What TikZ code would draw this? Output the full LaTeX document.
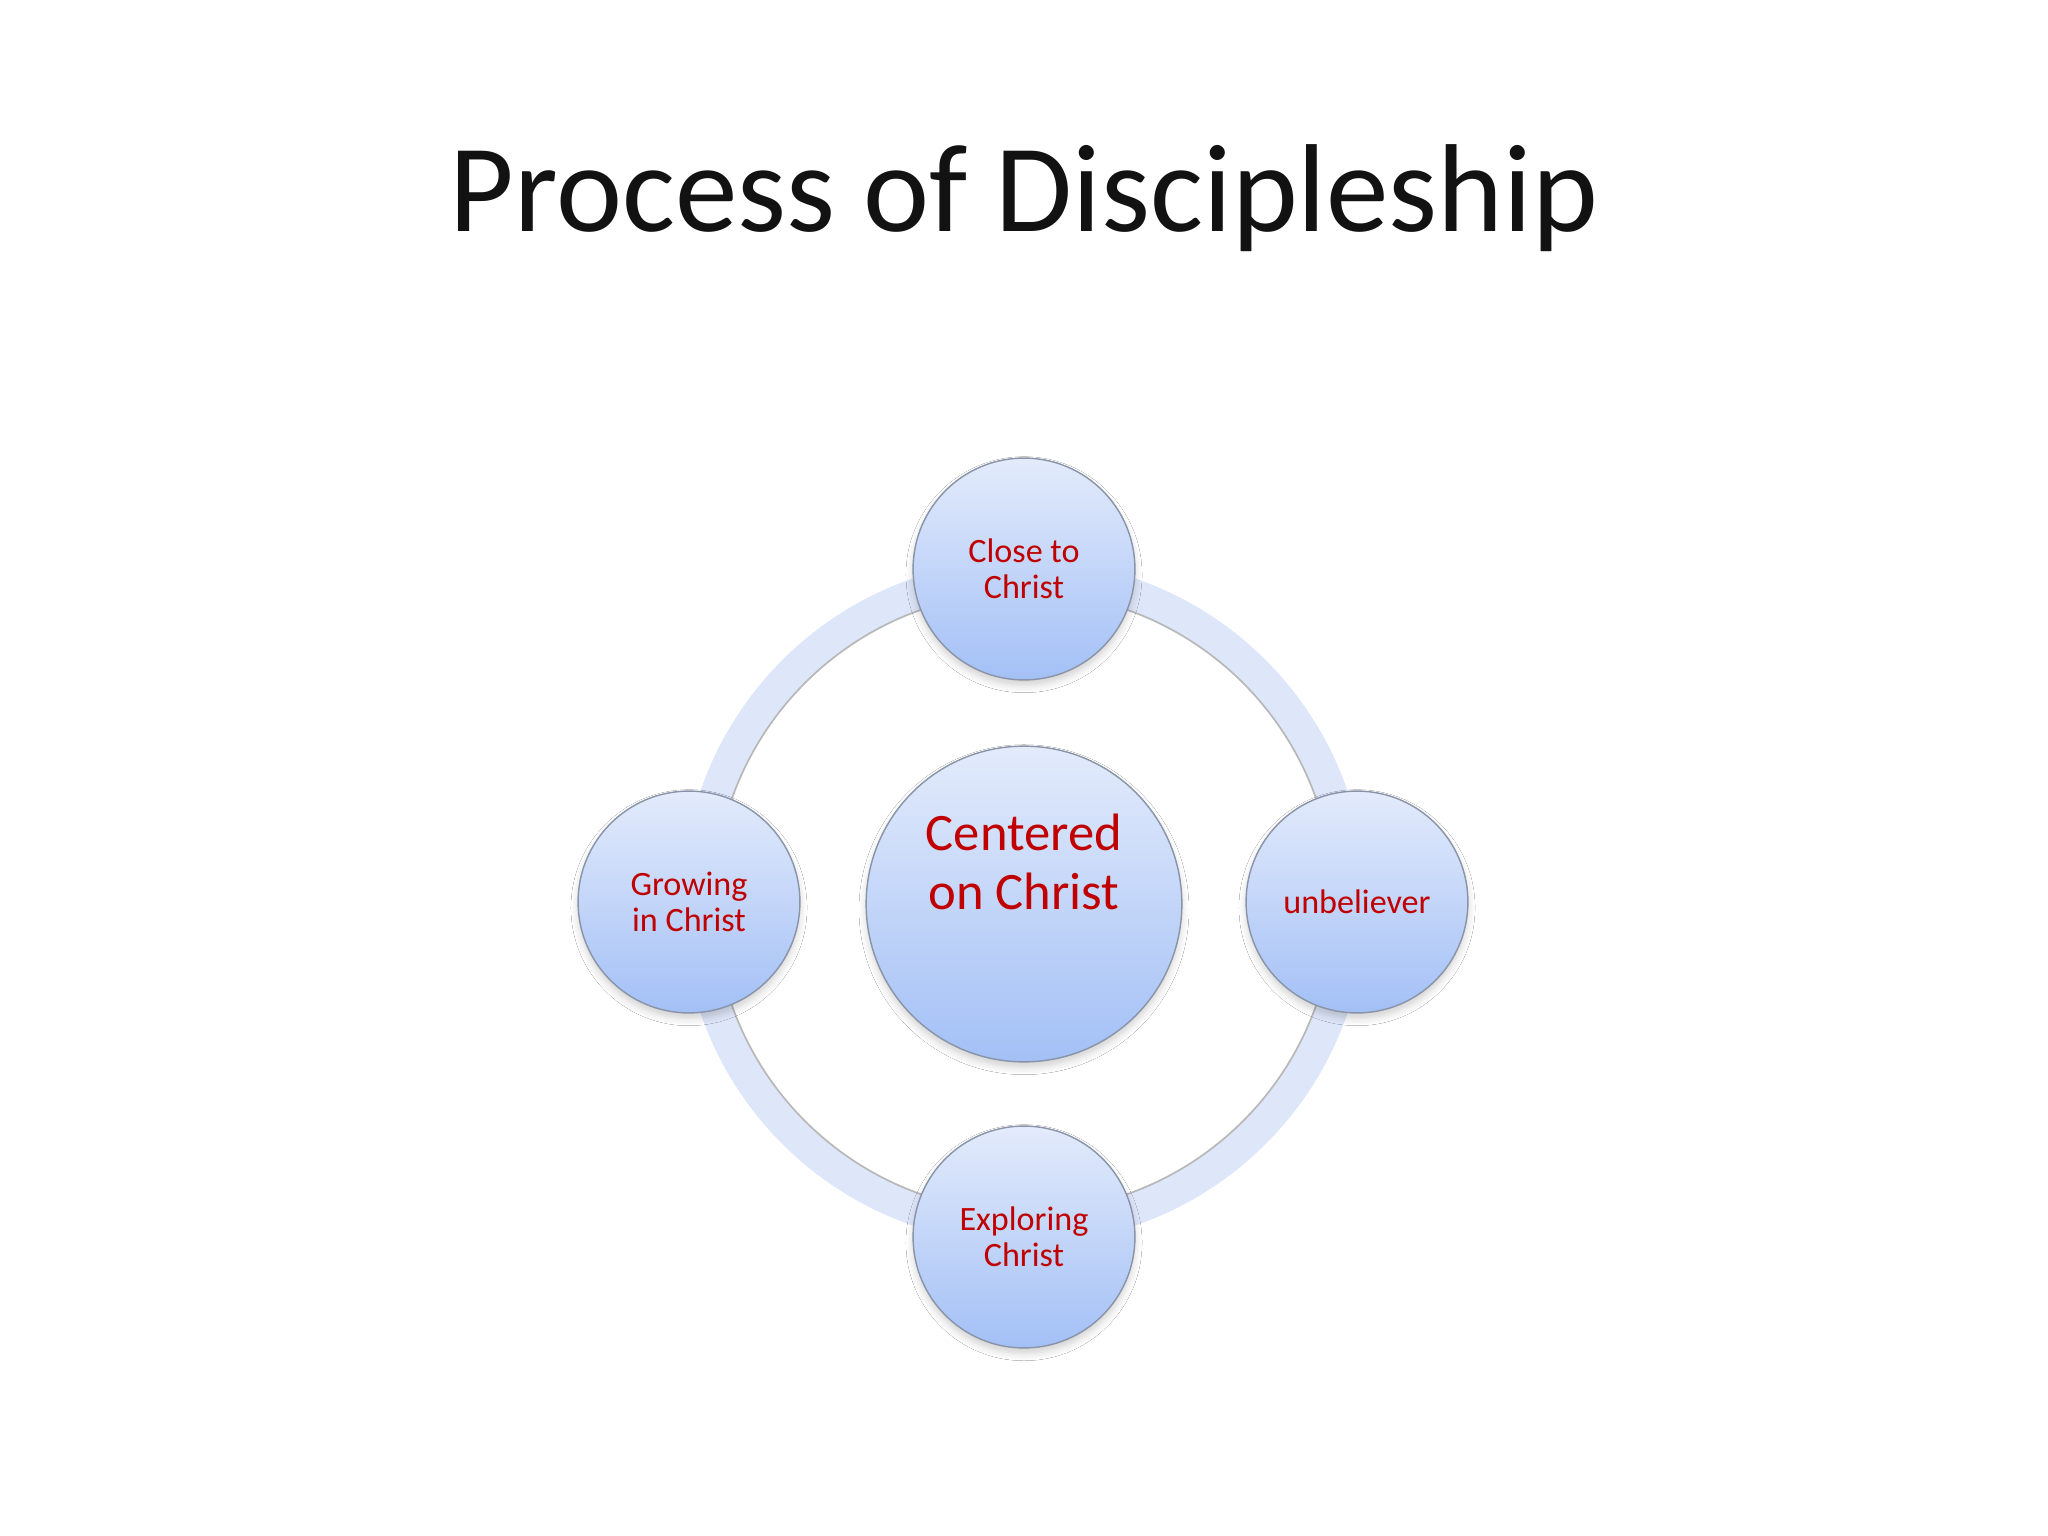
\documentclass[tikz,border=0pt]{standalone}
\usepackage{fontspec}
\setmainfont{Carlito}
\usetikzlibrary{shadows.blur}
\definecolor{ctxt}{HTML}{C00000}
\definecolor{ctop}{HTML}{E3EBFB}
\definecolor{cbot}{HTML}{A3C0F6}
\definecolor{cring}{HTML}{DEE6F9}
\definecolor{cedge}{HTML}{8A94A8}
\begin{document}
\begin{tikzpicture}[x=0.3515625pt,y=-0.3515625pt,
  disc/.style={circle, draw=cedge, line width=0.5pt, top color=ctop, bottom color=cbot,
    minimum size=78pt, inner sep=0pt,
    blur shadow={shadow xshift=0pt, shadow yshift=-2pt, shadow opacity=18, shadow blur radius=2.5pt, shadow blur steps=6}},
  small/.style={font=\fontsize{12}{12.7}\selectfont, text=ctxt, align=center},
  big/.style={font=\fontsize{18.5}{20.7}\selectfont, text=ctxt, align=center}]
\useasboundingbox (0,0) rectangle (2048,1536);
\fill[white] (0,0) rectangle (2048,1536);
\node[font=\fontsize{44}{52}\selectfont, anchor=base, text=black!93] (title) at (1024,232) {Process of Discipleship};
\coordinate (hub) at (1024,902);
\draw[cring, line width=11.25pt] (hub) circle[radius=114.6pt];
\draw[black!28, line width=0.6pt] (hub) circle[radius=108.9pt];
\node[disc, small] (close) at (1024,569) {Close to\\Christ};
\node[disc, small] (unbel) at (1357,902) {unbeliever};
\node[disc, small] (explore) at (1024,1237) {Exploring\\Christ};
\node[disc, small] (grow) at (689,902) {Growing\\in Christ};
\node[disc, minimum size=111pt] (core) at (1024,904) {};
\node[big] (coretext) at (1024,862) {Centered\\on Christ};
\end{tikzpicture}
\end{document}
